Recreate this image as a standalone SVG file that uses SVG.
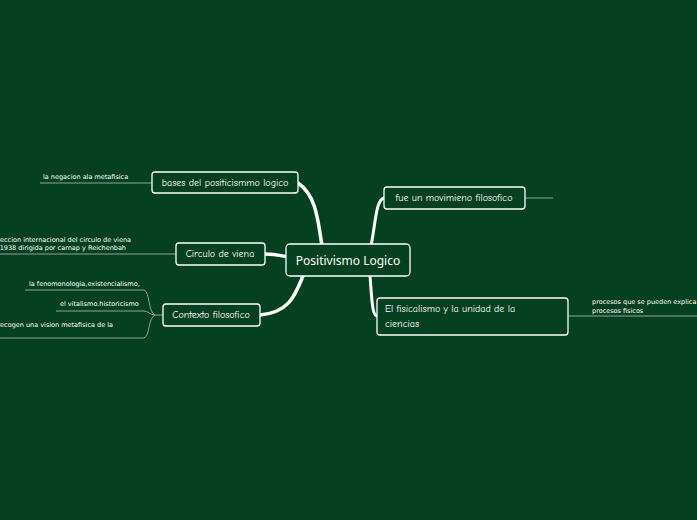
<svg xmlns="http://www.w3.org/2000/svg" width="697" height="520" viewBox="0 0 697 520">
<style>
.n{fill:#054120;stroke:#fff;stroke-width:1.3}
.t{fill:#fff;font-family:"Comic Neue","Noto Sans",sans-serif;font-size:10px}
.c{fill:#fff;font-family:"Noto Sans",sans-serif;font-size:12px}
.l{fill:#fff;font-family:"DejaVu Sans",sans-serif;font-size:6.5px}
.b{fill:none;stroke:#fff;stroke-linecap:round}
.th{fill:none;stroke:#8fa497;stroke-width:1}
</style>
<rect width="697" height="520" fill="#054120"/>
<g id="connectors">
<path class="b" stroke-width="3.5" d="M322,246 C318,220 316,195 298,183"/>
<path class="b" stroke-width="3.5" d="M288,257 C278,255 275,254 265,254"/>
<path class="b" stroke-width="3.5" d="M303,276 C295,295 290,312 260,315"/>
<path class="b" stroke-width="3" d="M371,246 C376,220 376,200 384,198"/>
<path class="b" stroke-width="3" d="M370,276 C372,300 372,315 377,316"/>
<path class="th" d="M40,183 H152"/>
<path class="th" d="M0,254 H176"/>
<path class="th" d="M25,290 H144 C150,292 148,312 155,315 H163"/>
<path class="th" d="M56,311 H144 C148,311 150,315 155,315"/>
<path class="th" d="M0,338 H144 C150,336 148,318 155,315"/>
<path class="th" d="M525,198 H553"/>
<path class="th" d="M568,316 H697"/>
</g>
<g id="central"><rect class="n" x="286" y="244" width="124" height="32" rx="4"/><text class="c" x="348" y="265" text-anchor="middle">Positivismo Logico</text></g>
<g id="bases"><rect class="n" x="152" y="172" width="146" height="21" rx="3"/><text class="t" x="225" y="186" text-anchor="middle">bases del positicismmo logico</text></g>
<g id="circulo"><rect class="n" x="176" y="243" width="89" height="22" rx="3"/><text class="t" x="220" y="257" text-anchor="middle">Circulo de   viena</text></g>
<g id="contexto"><rect class="n" x="163" y="304" width="97" height="22" rx="3"/><text class="t" x="211" y="318" text-anchor="middle">Contexto filosofico</text></g>
<g id="fue"><rect class="n" x="384" y="187" width="141" height="22" rx="3"/><text class="t" x="454" y="201" text-anchor="middle">fue un movimieno  filosofico</text></g>
<g id="fisicalismo"><rect class="n" x="377" y="298" width="191" height="37" rx="3"/><text class="t" x="385" y="312">El fisicalismo y  la unidad de la</text><text class="t" x="385" y="327">ciencias</text></g>
<g id="leaves">
<text class="l" x="43" y="179">la negacion ala metafisica</text>
<text class="l" x="131" y="242" text-anchor="end">reccion internacional del circulo de viena</text>
<text class="l" x="126" y="250" text-anchor="end">1938 dirigida por carnap y Reichenbah</text>
<text class="l" x="29" y="286">la fenomonologia,existencialismo,</text>
<text class="l" x="60" y="306">el vitalismo.historicismo</text>
<text class="l" x="113" y="327" text-anchor="end">recogen una vision metafisica de la</text>
<text class="l" x="592" y="304">procesos que se pueden explica</text>
<text class="l" x="592" y="313">procesos fisicos</text>
</g>
</svg>
